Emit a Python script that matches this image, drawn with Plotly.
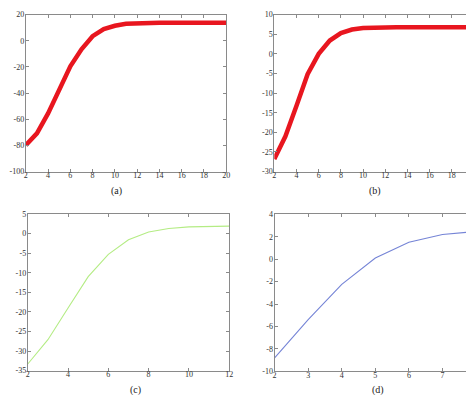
import plotly.graph_objects as go

# ---- data ----
x_a = list(range(2, 21))
y_a = [-79.8, -70.8, -55.5, -37.0, -19.5, -6.5, 3.5, 9.0, 11.5, 13.0, 13.5, 13.7, 13.8, 13.8, 13.8, 13.8, 13.8, 13.8, 13.8]

x_b = list(range(2, 21))
y_b = [-26.8, -21.0, -13.2, -5.2, 0.0, 3.4, 5.3, 6.2, 6.6, 6.75, 6.8, 6.8, 6.8, 6.8, 6.8, 6.8, 6.8, 6.8, 6.8]

x_c = list(range(2, 13))
y_c = [-33.3, -27.1, -19.0, -11.0, -5.3, -1.6, 0.4, 1.3, 1.7, 1.85, 1.9]

x_d = list(range(2, 9))
y_d = [-8.8, -5.4, -2.25, 0.1, 1.5, 2.2, 2.46]

ticks_a_x = list(range(2, 21, 2))
ticks_a_y = [-100, -80, -60, -40, -20, 0, 20]
ticks_b_x = list(range(2, 21, 2))
ticks_b_y = [-30, -25, -20, -15, -10, -5, 0, 5, 10]
ticks_c_x = list(range(2, 13, 2))
ticks_c_y = [-35, -30, -25, -20, -15, -10, -5, 0, 5]
ticks_d_x = list(range(2, 9))
ticks_d_y = [-10, -8, -6, -4, -2, 0, 2, 4]

panel_labels = ["(a)", "(b)", "(c)", "(d)"]

W, H = 474, 395
def dx(a, b):
    return [a / W, b / W]
def dy(top, bottom):
    return [1 - bottom / H, 1 - top / H]

fig = go.Figure()

panels = [
    (x_a, y_a, "#e8161f", 4.5, ticks_a_x, ticks_a_y, dx(16, 219), dy(2.7, 163.3)),
    (x_b, y_b, "#e8161f", 4.5, ticks_b_x, ticks_b_y, dx(267.7, 470), dy(2.7, 163.3)),
    (x_c, y_c, "#b4ec84", 1.1, ticks_c_x, ticks_c_y, dx(18, 222), dy(206.7, 367)),
    (x_d, y_d, "#7584d6", 1.1, ticks_d_x, ticks_d_y, dx(268, 472), dy(207, 367.7)),
]

def lab(v):
    return str(v)

SERIF = "Liberation Serif"
font = dict(family=SERIF, size=8, color="#333333")
for i, (xs, ys, col, w, tx, ty, xd, yd) in enumerate(panels):
    n = "" if i == 0 else str(i + 1)
    fig.add_trace(go.Scatter(x=xs, y=ys, mode="lines", line=dict(color=col, width=w),
                             xaxis="x" + n, yaxis="y" + n, showlegend=False))
    common = dict(showgrid=False, zeroline=False, showline=True, linecolor="#8a8a8a",
                  linewidth=1, mirror="ticks", ticks="inside", ticklen=3, tickcolor="#8a8a8a",
                  tickfont=font, fixedrange=True)
    fig.layout["xaxis" + n] = dict(domain=xd, range=[tx[0], tx[-1]], tickvals=tx,
                                   ticktext=[lab(v) for v in tx], anchor="y" + n,
                                   ticklabelstandoff=-4, **common)
    fig.layout["yaxis" + n] = dict(domain=yd, range=[ty[0], ty[-1]], tickvals=ty,
                                   ticktext=[lab(v) for v in ty], anchor="x" + n,
                                   ticklabelstandoff=-1, **common)

label_pos = [(108, 183.5), (370, 183.5), (127, 386.5), (373, 387)]
for t, (px, py) in zip(panel_labels, label_pos):
    fig.add_annotation(text=t, x=px / W, y=1 - py / H, xref="paper", yref="paper",
                       showarrow=False, xanchor="center", yanchor="middle",
                       font=dict(family=SERIF, size=10, color="#222222"))

fig.update_layout(width=W, height=H, margin=dict(l=0, r=0, t=0, b=0),
                  paper_bgcolor="white", plot_bgcolor="white",
                  font=dict(family=SERIF))
fig.write_html("out.html")
